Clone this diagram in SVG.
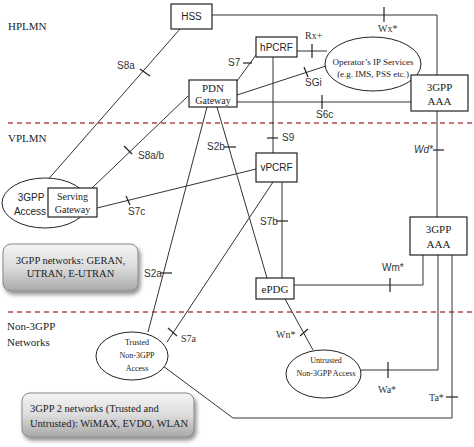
<svg xmlns="http://www.w3.org/2000/svg" width="474" height="447" viewBox="0 0 474 447">
<defs>
<linearGradient id="gbox" x1="0" y1="0" x2="0" y2="1">
<stop offset="0" stop-color="#f4f4f4"/>
<stop offset="0.5" stop-color="#dcdcdc"/>
<stop offset="1" stop-color="#a8a8a8"/>
</linearGradient>
<filter id="shadow" x="-10%" y="-10%" width="130%" height="140%">
<feGaussianBlur in="SourceAlpha" stdDeviation="2"/>
<feOffset dx="2" dy="3" result="b"/>
<feComponentTransfer><feFuncA type="linear" slope="0.45"/></feComponentTransfer>
<feMerge><feMergeNode/><feMergeNode in="SourceGraphic"/></feMerge>
</filter>
</defs>
<style>
.ln{stroke:#333;stroke-width:1;fill:none}
.tk{stroke:#222;stroke-width:1.2}
.box{fill:#fff;stroke:#222;stroke-width:1.2}
.ell{fill:#fff;stroke:#222;stroke-width:1}
.dash{stroke:#b04848;stroke-width:1.3;stroke-dasharray:5,4}
.sans{font-family:"Liberation Sans",Arial,sans-serif;fill:#222}
.serif{font-family:"Liberation Serif","Times New Roman",serif;fill:#222}
.lbl{font-family:"Liberation Sans",Arial,sans-serif;font-size:10px;fill:#333}
.slbl{font-family:"Liberation Serif","Times New Roman",serif;font-size:10px;fill:#333}
.gbox{fill:url(#gbox);stroke:#888;stroke-width:1}
</style>
<rect width="474" height="447" fill="#fff"/>

<!-- domain separators -->
<line class="dash" x1="8" y1="123" x2="474" y2="123"/>
<line class="dash" x1="8" y1="312" x2="474" y2="312"/>
<text class="serif" x="8" y="30" font-size="11">HPLMN</text>
<text class="serif" x="8" y="142" font-size="11">VPLMN</text>
<text class="serif" x="7" y="330" font-size="11">Non-3GPP</text>
<text class="serif" x="7" y="346" font-size="11">Networks</text>

<!-- connectors -->
<g id="connectors">
<polyline class="ln" points="212,15 437,15 437,75"/>
<line class="tk" x1="384" y1="7" x2="384" y2="22"/>
<text class="slbl" x="378" y="32">Wx*</text>

<line class="ln" x1="180" y1="29" x2="45" y2="183"/>
<line class="tk" x1="140" y1="69" x2="150" y2="76"/>
<text class="lbl" x="117" y="69">S8a</text>

<line class="ln" x1="256" y1="55" x2="237" y2="81"/>
<line class="tk" x1="243" y1="63" x2="252" y2="63"/>
<text class="lbl" x="228" y="66">S7</text>

<line class="ln" x1="297" y1="51" x2="327" y2="51"/>
<line class="tk" x1="312" y1="44" x2="312" y2="58"/>
<text class="slbl" x="305" y="39">Rx+</text>

<line class="ln" x1="237" y1="95" x2="326" y2="66"/>
<line class="tk" x1="304" y1="67" x2="308" y2="77"/>
<text class="lbl" x="305" y="86">SGi</text>

<line class="ln" x1="237" y1="102" x2="411" y2="102"/>
<line class="tk" x1="322" y1="95" x2="322" y2="109"/>
<text class="lbl" x="316" y="118">S6c</text>

<line class="ln" x1="273" y1="57" x2="273" y2="153"/>
<line class="tk" x1="267" y1="138" x2="278" y2="138"/>
<text class="lbl" x="282" y="141">S9</text>

<line class="ln" x1="188" y1="96" x2="92" y2="188"/>
<line class="tk" x1="124" y1="146" x2="132" y2="154"/>
<text class="lbl" x="138" y="159">S8a/b</text>

<line class="ln" x1="97" y1="208" x2="256" y2="169"/>
<line class="tk" x1="126" y1="196" x2="130" y2="205"/>
<text class="lbl" x="128" y="215">S7c</text>

<line class="ln" x1="207" y1="107" x2="148" y2="332"/>
<line class="tk" x1="160" y1="273" x2="172" y2="273"/>
<text class="lbl" x="144" y="277">S2a</text>

<line class="ln" x1="217" y1="107" x2="267" y2="278"/>
<line class="tk" x1="224" y1="147" x2="236" y2="147"/>
<text class="lbl" x="207" y="150">S2b</text>

<line class="ln" x1="273" y1="182" x2="167" y2="342"/>
<line class="tk" x1="168" y1="328" x2="177" y2="336"/>
<text class="slbl" x="181" y="342">S7a</text>

<line class="ln" x1="282" y1="182" x2="282" y2="278"/>
<line class="tk" x1="276" y1="221" x2="288" y2="221"/>
<text class="lbl" x="260" y="225">S7b</text>

<line class="ln" x1="437" y1="111" x2="437" y2="217"/>
<line class="tk" x1="433" y1="150" x2="444" y2="150"/>
<text class="lbl" x="414" y="153" font-style="italic">Wd*</text>

<polyline class="ln" points="294,285 423,285 423,255"/>
<line class="tk" x1="390" y1="278" x2="390" y2="292"/>
<text class="lbl" x="382" y="271">Wm*</text>

<line class="ln" x1="285" y1="299" x2="313" y2="350"/>
<line class="tk" x1="300" y1="336" x2="308" y2="329"/>
<text class="slbl" x="276" y="338">Wn*</text>

<polyline class="ln" points="361,370 438,370 438,255"/>
<line class="tk" x1="388" y1="362" x2="388" y2="378"/>
<text class="slbl" x="378" y="393">Wa*</text>

<polyline class="ln" points="163,366 233,418 452,418 452,255"/>
<line class="tk" x1="446" y1="397" x2="458" y2="397"/>
<text class="slbl" x="429" y="401">Ta*</text>
</g>

<!-- nodes -->
<g id="hss">
<rect class="box" x="171" y="4" width="41" height="25"/>
<text class="sans" x="191.5" y="20" font-size="10" text-anchor="middle">HSS</text>
</g>
<g id="hpcrf">
<rect class="box" x="256" y="37" width="41" height="20"/>
<text class="sans" x="276.5" y="51" font-size="10" text-anchor="middle">hPCRF</text>
</g>
<g id="operator-ip">
<ellipse class="ell" cx="373" cy="64" rx="48" ry="27"/>
<text class="serif" x="373" y="65" font-size="9" text-anchor="middle">Operator’s IP Services</text>
<text class="serif" x="373" y="77" font-size="9" text-anchor="middle">(e.g. IMS, PSS etc.)</text>
</g>
<g id="aaa-home">
<rect class="box" x="411" y="75" width="57" height="36"/>
<text class="serif" x="439.5" y="91" font-size="11" text-anchor="middle">3GPP</text>
<text class="serif" x="439.5" y="105" font-size="11" text-anchor="middle">AAA</text>
</g>
<g id="pdn-gateway">
<rect class="box" x="189" y="80" width="48" height="27"/>
<text class="serif" x="213" y="92" font-size="11" text-anchor="middle">PDN</text>
<text class="serif" x="213" y="104" font-size="10" text-anchor="middle">Gateway</text>
</g>
<g id="vpcrf">
<rect class="box" x="256" y="153" width="41" height="29"/>
<text class="sans" x="276.5" y="171" font-size="10" text-anchor="middle">vPCRF</text>
</g>
<g id="access-3gpp">
<ellipse class="ell" cx="45" cy="203" rx="43" ry="25"/>
<text class="sans" x="31" y="201" font-size="10" text-anchor="middle">3GPP</text>
<text class="sans" x="30" y="215" font-size="10" text-anchor="middle">Access</text>
</g>
<g id="serving-gateway">
<rect class="box" x="48" y="188" width="49" height="29"/>
<text class="serif" x="72.5" y="200" font-size="10" text-anchor="middle">Serving</text>
<text class="serif" x="72.5" y="213" font-size="10" text-anchor="middle">Gateway</text>
</g>
<g id="aaa-visited">
<rect class="box" x="410" y="217" width="57" height="38"/>
<text class="serif" x="438.5" y="233" font-size="11" text-anchor="middle">3GPP</text>
<text class="serif" x="438.5" y="248" font-size="11" text-anchor="middle">AAA</text>
</g>
<g id="epdg">
<rect class="box" x="256" y="278" width="38" height="21"/>
<text class="serif" x="275" y="293" font-size="11" text-anchor="middle">ePDG</text>
</g>
<g id="trusted-non3gpp">
<ellipse class="ell" cx="132" cy="356" rx="36" ry="24"/>
<text class="serif" x="137" y="345" font-size="8" text-anchor="middle">Trusted</text>
<text class="serif" x="137" y="358" font-size="8" text-anchor="middle">Non-3GPP</text>
<text class="serif" x="137" y="371" font-size="8" text-anchor="middle">Access</text>
</g>
<g id="untrusted-non3gpp">
<ellipse class="ell" cx="323.5" cy="374" rx="37.5" ry="24"/>
<text class="serif" x="326" y="363" font-size="8" text-anchor="middle">Untrusted</text>
<text class="serif" x="326" y="376" font-size="8" text-anchor="middle">Non-3GPP Access</text>
</g>
<g id="note-3gpp">
<rect class="gbox" x="3" y="244" width="135" height="47" rx="8" filter="url(#shadow)"/>
<text class="serif" x="70.5" y="264" font-size="10.5" text-anchor="middle">3GPP networks: GERAN,</text>
<text class="serif" x="70.5" y="277" font-size="10.5" text-anchor="middle">UTRAN, E-UTRAN</text>
</g>
<g id="note-3gpp2">
<rect class="gbox" x="22" y="393" width="172" height="44" rx="8" filter="url(#shadow)"/>
<text class="serif" x="30" y="412" font-size="10.5">3GPP 2 networks (Trusted and</text>
<text class="serif" x="30" y="427" font-size="10.5">Untrusted): WiMAX, EVDO, WLAN</text>
</g>
</svg>
